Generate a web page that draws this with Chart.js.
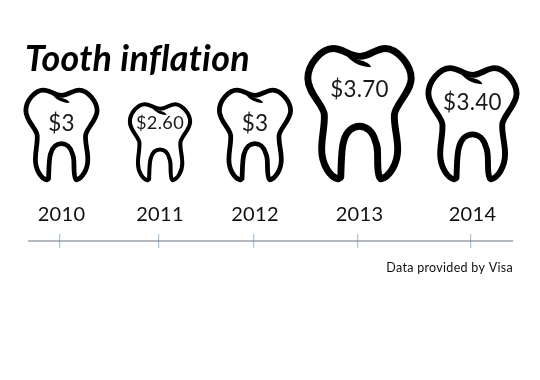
<!DOCTYPE html>
<html>
<head>
<meta charset="utf-8">
<style>html,body{margin:0;padding:0;background:#fff}canvas{display:block}</style>
<script src="https://cdn.jsdelivr.net/npm/chart.js@4/dist/chart.umd.js"></script>
</head>
<body>
<canvas id="c" width="540" height="380"></canvas>
<script>
const chartTitle = "Tooth inflation";
const sourceNote = "Data provided by Visa";
const years = ["2010", "2011", "2012", "2013", "2014"];
const prices = [3, 2.6, 3, 3.7, 3.4];
const priceLabels = ["$3", "$2.60", "$3", "$3.70", "$3.40"];

// Layout of the pictogram (not data)
const xStops = [0.0717, 0.2736, 0.4682, 0.6824, 0.9139];
const yStops = [[0, 0.778], [2.6, 0.436], [3, 0.374], [3.4, 0.278], [3.7, 0.192], [4, 0.10]];
const labelDrop = [0.38, 0.26, 0.38, 0.325, 0.325];
const labelSize = [22.5, 18.2, 22.5, 22.4, 22.4];
const glyphShift = 1.5;
const TOOTH_H = 416, TOOTH_CX = 270, TOOTH_BOTTOM = 460;
const toothOutline = new Path2D("M205 450C180 445 155 405 155 360C155 320 165 290 163 255C161 225 113 190 113 145C113 100 155 54 190 54C220 54 240 78 272 78C300 78 320 54 348 54C385 54 427 105 427 145C427 185 378 225 376 255C374 290 386 320 386 360C386 405 360 445 335 450C325 450 325 400 325 385C325 360 325 350 318 335C310 305 290 290 270 290C250 290 230 305 222 335C214 360 215 400 213 445Z");
const toothFissure = new Path2D("M222 64C238 90 265 110 305 111C303 100 288 93 268 88C250 84 238 76 222 64Z");

class TimelineScale extends Chart.CategoryScale {
  static id = 'timeline';
  static defaults = {};
  getPixelForValue(value) {
    if (typeof value !== 'number') value = this.parse(value);
    if (value === null) return NaN;
    return this.left + this.width * xStops[Math.round(value)];
  }
}
class PiecewiseScale extends Chart.LinearScale {
  static id = 'piecewise';
  static defaults = {};
  getPixelForValue(value) {
    if (value === null || value === undefined) return NaN;
    let i = 0;
    while (i < yStops.length - 2 && value > yStops[i + 1][0]) i++;
    const [a, fa] = yStops[i], [b, fb] = yStops[i + 1];
    return this.top + this.height * (fa + (fb - fa) * (value - a) / (b - a));
  }
}
Chart.register(TimelineScale, PiecewiseScale);

const toothPlugin = {
  id: 'teeth',
  beforeDraw(chart) {
    // a hair of tracking keeps Lato from joining "ti" into a ligature
    chart.ctx.letterSpacing = '0.3px';
  },
  beforeDatasetsDraw(chart) {
    const { ctx, chartArea, scales } = chart;
    ctx.save();
    ctx.strokeStyle = '#66727c';
    ctx.lineWidth = 1.2;
    ctx.beginPath();
    ctx.moveTo(chartArea.left + 3, scales.x.top + 7);
    ctx.lineTo(chartArea.right, scales.x.top + 7);
    ctx.stroke();
    ctx.restore();
  },
  afterDatasetsDraw(chart) {
    const { ctx } = chart;
    const bars = chart.getDatasetMeta(0).data;
    bars.forEach((bar, i) => {
      const h = bar.base - bar.y;
      const s = h / TOOTH_H;
      const cx = bar.x + glyphShift;
      ctx.save();
      ctx.translate(cx, bar.base);
      ctx.scale(s, s);
      ctx.translate(-TOOTH_CX, -TOOTH_BOTTOM);
      ctx.lineJoin = 'round';
      ctx.lineCap = 'round';
      ctx.lineWidth = 21;
      ctx.strokeStyle = '#000';
      ctx.fillStyle = '#000';
      ctx.stroke(toothOutline);
      ctx.fill(toothFissure);
      ctx.restore();
      ctx.save();
      ctx.fillStyle = '#1a1a1a';
      ctx.textAlign = 'center';
      ctx.textBaseline = 'middle';
      ctx.font = labelSize[i] + 'px Lato';
      ctx.fillText(priceLabels[i], cx, bar.y + h * labelDrop[i]);
      ctx.restore();
    });
  }
};

new Chart(document.getElementById('c'), {
  type: 'bar',
  data: {
    labels: years,
    datasets: [{ data: prices, backgroundColor: 'transparent', borderWidth: 0 }]
  },
  options: {
    responsive: false,
    animation: false,
    devicePixelRatio: 1,
    layout: { padding: { left: 25, right: 27, top: 0, bottom: 105 } },
    plugins: {
      legend: { display: false },
      tooltip: { enabled: false },
      title: {
        display: true,
        text: chartTitle,
        align: 'start',
        color: '#000',
        font: { family: 'Lato', size: 35.8, weight: 'bold', style: 'italic', lineHeight: 0.01 },
        padding: { top: 59, bottom: -59 }
      }
    },
    scales: {
      x: {
        type: 'timeline',
        afterFit(s) { s.height = 41; },
        border: { display: false },
        grid: { offset: false, drawOnChartArea: false, drawTicks: true, tickLength: 14, color: '#a8c4d8', lineWidth: 1.2 },
        ticks: { color: '#111', font: { family: 'Lato', size: 20 }, mirror: true, padding: 7.5, labelOffset: 1.5, maxRotation: 0, autoSkip: false },
        title: {
          display: true, text: sourceNote, align: 'end', color: '#111',
          font: { family: 'Lato', size: 12.5 }, padding: 0
        }
      },
      y: { type: 'piecewise', display: false, min: 0, max: 4 }
    }
  },
  plugins: [toothPlugin]
});
</script>
</body>
</html>
